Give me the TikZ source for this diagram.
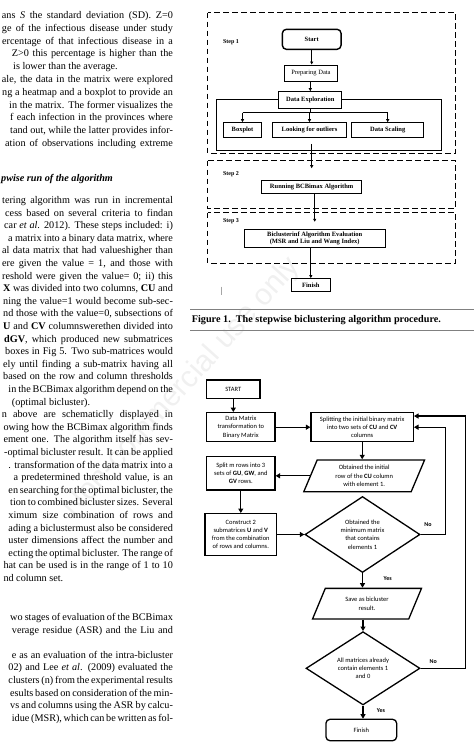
\documentclass[tikz,border=0pt]{standalone}
\usepackage{fontspec}
\setmainfont{Liberation Serif}
\newfontfamily\flowfont{Carlito}
\newfontfamily\markfont{Liberation Sans}
\usetikzlibrary{shapes.geometric,arrows.meta,calc}

\begin{document}
\begin{tikzpicture}[x=1pt,y=-1pt,
    body/.style={anchor=base west,inner sep=0,font=\fontsize{10.2}{12}\selectfont},
    stepbox/.style={draw,line width=1.3pt,dash pattern=on 5.5pt off 3.5pt},
    steplabel/.style={font=\fontsize{6}{7}\selectfont\bfseries},
    box/.style={draw,line width=1pt,inner sep=1pt,align=center,font=\fontsize{6.5}{7.5}\selectfont\bfseries},
    thinarrow/.style={-{Triangle[length=3pt,width=3pt]},line width=0.8pt},
    fbox/.style={draw,line width=1.3pt,inner sep=0,align=center,font=\flowfont\fontsize{6.5}{8.2}\selectfont},
    slant/.style={fbox,trapezium,trapezium stretches=true,trapezium left angle=#1,trapezium right angle={180-#1}},
    decision/.style={fbox,diamond,aspect=1.5},
    flowarrow/.style={-{Triangle[length=4.5pt,width=5pt]},line width=1.3pt},
    answer/.style={font=\flowfont\fontsize{6}{7}\selectfont\bfseries}]
    \useasboundingbox (0,0) rectangle (474,748);
    \node[rotate=48,text=black!6,font=\markfont\fontsize{30}{30}\selectfont] (mark) at (182,388) {Non-commercial use only};

    \foreach \ly/\lx/\lt [count=\n] in {
        18.5/1.7/{ans \textit{S} the standard deviation (SD). Z=0},
        31.3/1.7/{ge of the infectious disease under study},
        44.1/2/{ercentage of that infectious disease in a},
        56.9/11.7/{Z>0 this percentage is higher than the},
        82.5/1.7/{ale, the data in the matrix were explored},
        95.3/2/{ng a heatmap and a boxplot to provide an},
        108.1/9/{in the matrix. The former visualizes the},
        120.9/10/{f each infection in the provinces where},
        133.7/10/{tand out, while the latter provides infor-},
        146.5/5/{ation of observations including extreme},
        203.5/2/{tering algorithm was run in incremental},
        216.1/5/{cess based on several criteria to findan},
        228.7/4/{car \textit{et al}. 2012). These steps included: i)},
        241.3/8/{a matrix into a binary data matrix, where},
        253.9/2/{al data matrix that had valueshigher than},
        266.5/2/{ere given the value = 1, and those with},
        279.1/2/{reshold were given the value= 0; ii) this},
        291.7/3/{\textbf{X} was divided into two columns, \textbf{CU} and},
        304.3/3/{ning the value=1 would become sub-sec-},
        316.9/3/{nd those with the value=0, subsections of},
        329.5/3/{\textbf{U} and \textbf{CV} columnswerethen divided into},
        342.1/4/{\textbf{dGV}, which produced new submatrices},
        354.7/5/{boxes in Fig 5. Two sub-matrices would},
        367.3/3/{ely until finding a sub-matrix having all},
        379.9/3/{based on the row and column thresholds},
        392.5/8.3/{in the BCBimax algorithm depend on the},
        417.7/1.7/{n above are schematiclly displayed in},
        430.3/3.3/{owing how the BCBimax algorithm finds},
        442.9/3.3/{ement one. The algorithm itself has sev-},
        455.5/4/{-optimal bicluster result. It can be applied},
        468.1/8.3/{. transformation of the data matrix into a},
        480.7/13.3/{a predetermined threshold value, is an},
        493.3/8.3/{en searching for the optimal bicluster, the},
        505.9/10/{tion to combined bicluster sizes. Several},
        518.5/8.3/{ximum size combination of rows and},
        531.1/8.3/{ading a biclustermust also be considered},
        543.7/8.3/{uster dimensions affect the number and},
        556.3/8.3/{ecting the optimal bicluster. The range of},
        568.9/3.3/{hat can be used is in the range of 1 to 10},
        620.5/10/{wo stages of evaluation of the BCBimax},
        633.1/11.7/{verage residue (ASR) and the Liu and},
        658.3/11.7/{e as an evaluation of the intra-bicluster},
        670.9/8.3/{02) and Lee \textit{et al}. (2009) evaluated the},
        683.5/8.3/{clusters (n) from the experimental results},
        696.1/10/{esults based on consideration of the min-},
        708.7/10/{vs and columns using the ASR by calcu-},
        721.3/11.7/{idue (MSR), which can be written as fol-}}
        \node[body] (line\n) at (\lx,\ly) {\hbox to \dimexpr172.7pt-\lx pt\relax{\lt}};
    \node[body] (average) at (13,69.7) {is lower than the average.};
    \node[body,font=\fontsize{10.2}{12}\selectfont\bfseries\itshape] (heading) at (1,181.8) {pwise run of the algorithm};
    \node[body] (optimal) at (11.7,405.1) {(optimal bicluster).};
    \node[body] (colset) at (3.3,581.5) {nd column set.};

    \draw[stepbox] (207.7,12.7) rectangle (455.7,153.3);
    \draw[stepbox] (207.7,160.7) rectangle (455.7,208.3);
    \draw[stepbox] (207.7,212.7) rectangle (455.7,263.3);
    \node[steplabel] (step1) at (231,42) {Step 1};
    \node[steplabel] (step2) at (231,174) {Step 2};
    \node[steplabel] (step3) at (231,220.7) {Step 3};
    \node[box,rounded corners=4pt,line width=1.4pt,minimum width=58.7pt,minimum height=20pt] (start) at (311.7,39.3) {Start};
    \node[box,font=\fontsize{6.5}{7.5}\selectfont,minimum width=53.4pt,minimum height=16pt] (prep) at (311,73) {Preparing Data};
    \draw[line width=0.8pt] (216.7,99) rectangle (441.7,150.7);
    \node[box,fill=white,minimum width=62.7pt,minimum height=16.6pt] (explore) at (310.3,100) {Data Exploration};
    \node[box,minimum width=38.4pt,minimum height=14.6pt] (boxplot) at (242.5,130) {Boxplot};
    \node[box,minimum width=74.4pt,minimum height=14.6pt] (outliers) at (309.5,130) {Looking for outliers};
    \node[box,minimum width=72pt,minimum height=14.6pt] (scaling) at (387.7,130) {Data Scaling};
    \node[box,minimum width=100pt,minimum height=12.6pt] (running) at (311.7,187) {Running BCBimax Algorithm};
    \node[box,minimum width=140.7pt,minimum height=18pt] (eval) at (314.7,238.3) {Biclusterinf Algorithm Evaluation\\(MSR and Liu and Wang Index)};
    \node[box,minimum width=39pt,minimum height=12.8pt] (finish) at (310.8,285) {Finish};
    \coordinate (fork) at (310.3,112.7);
    \draw[thinarrow] (start) -- (start |- prep.north);
    \draw[thinarrow] (prep.south -| explore) -- (explore);
    \draw[line width=0.8pt] (explore) -- (fork);
    \draw[line width=0.8pt] (fork -| boxplot) -- (fork -| scaling);
    \foreach \b in {boxplot,outliers,scaling}
        \draw[thinarrow] (fork -| \b) -- (\b);
    \draw[thinarrow,shorten <=6pt,shorten >=12pt] (running.north |- outliers.south) -- (running.north);
    \draw[thinarrow,shorten >=7pt] (running.south -| eval) -- (eval.north);
    \draw[thinarrow] (eval.south -| finish) -- (finish);
    \draw[black!35,line width=0.6pt] (221.7,286.7) -- (221.7,295);

    \draw[black!50,line width=0.8pt] (190,309.3) -- (474,309.3);
    \draw[black!50,line width=0.8pt] (190,330) -- (474,330);
    \node[anchor=west,inner sep=0,font=\fontsize{10.2}{11}\selectfont\bfseries] (caption) at (191.7,320) {Figure 1.\ \ The stepwise biclustering algorithm procedure.};

    \node[fbox,minimum width=53.3pt,minimum height=18.3pt] (begin) at (233.3,389.2) {START};
    \node[fbox,minimum width=68.3pt,minimum height=29pt] (binary) at (240.8,427.2) {Data Matrix\\transformation to\\Binary Matrix};
    \node[fbox,minimum width=102.3pt,minimum height=29pt] (splitcols) at (362.2,427.2) {Splitting the initial binary matrix\\into two sets of \textbf{CU} and \textbf{CV}\\columns};
    \node[slant=68.6,minimum width=121.7pt,minimum height=31.7pt] (initrow) at (364.2,475.8) {Obtained the initial\\row of the \textbf{CU} column\\with element 1.};
    \node[fbox,minimum width=68.3pt,minimum height=33.3pt] (splitrows) at (240.8,473.3) {Split m rows into 3\\sets of \textbf{GU}, \textbf{GW}, and\\\textbf{GV} rows.};
    \node[fbox,minimum width=71.7pt,minimum height=41.7pt] (submat) at (240.8,534.5) {Construct 2\\submatrices \textbf{U} and \textbf{V}\\from the combination\\of rows and columns.};
    \node[decision,minimum width=115pt,minimum height=76pt] (minmat) at (362.5,534.5) {Obtained the\\minimum matrix\\that contains\\elements 1};
    \node[slant=62.5,minimum width=109.4pt,minimum height=30.7pt] (save) at (367,603.7) {Save as bicluster\\result.};
    \node[decision,minimum width=114pt,minimum height=73.3pt] (allmat) at (363,668.3) {All matrices already\\contain elements 1\\and 0};
    \node[fbox,rounded corners=4pt,minimum width=70.7pt,minimum height=21.4pt] (end) at (361.3,730) {Finish};
    \node[answer] (no1) at (428,525) {No};
    \node[answer] (yes1) at (387.7,578.3) {Yes};
    \node[answer] (no2) at (433.3,661.7) {No};
    \node[answer] (yes2) at (381,711) {Yes};
    \draw[flowarrow] (begin.south) -- (begin.south |- binary.north);
    \draw[flowarrow] (binary) -- (splitcols);
    \draw[flowarrow] (splitcols.south) -- (splitcols.south |- initrow.north);
    \draw[flowarrow] (initrow.west) -- (initrow.west -| splitrows.east);
    \draw[flowarrow] (splitrows.south) -- (splitrows.south |- submat.north);
    \draw[flowarrow] (submat) -- (minmat);
    \draw[flowarrow] (minmat.east) -- ++(25,0) |- (splitcols.east);
    \draw[flowarrow] (minmat.south) -- (minmat.south |- save.north);
    \draw[flowarrow] (allmat.north |- save.south) -- (allmat.north);
    \draw[flowarrow] (allmat.east) -- ++(45,0) |- ($(splitcols.north east)+(0,4)$);
    \draw[flowarrow] (allmat.south) -- (allmat.south |- end.north);
\end{tikzpicture}
\end{document}
